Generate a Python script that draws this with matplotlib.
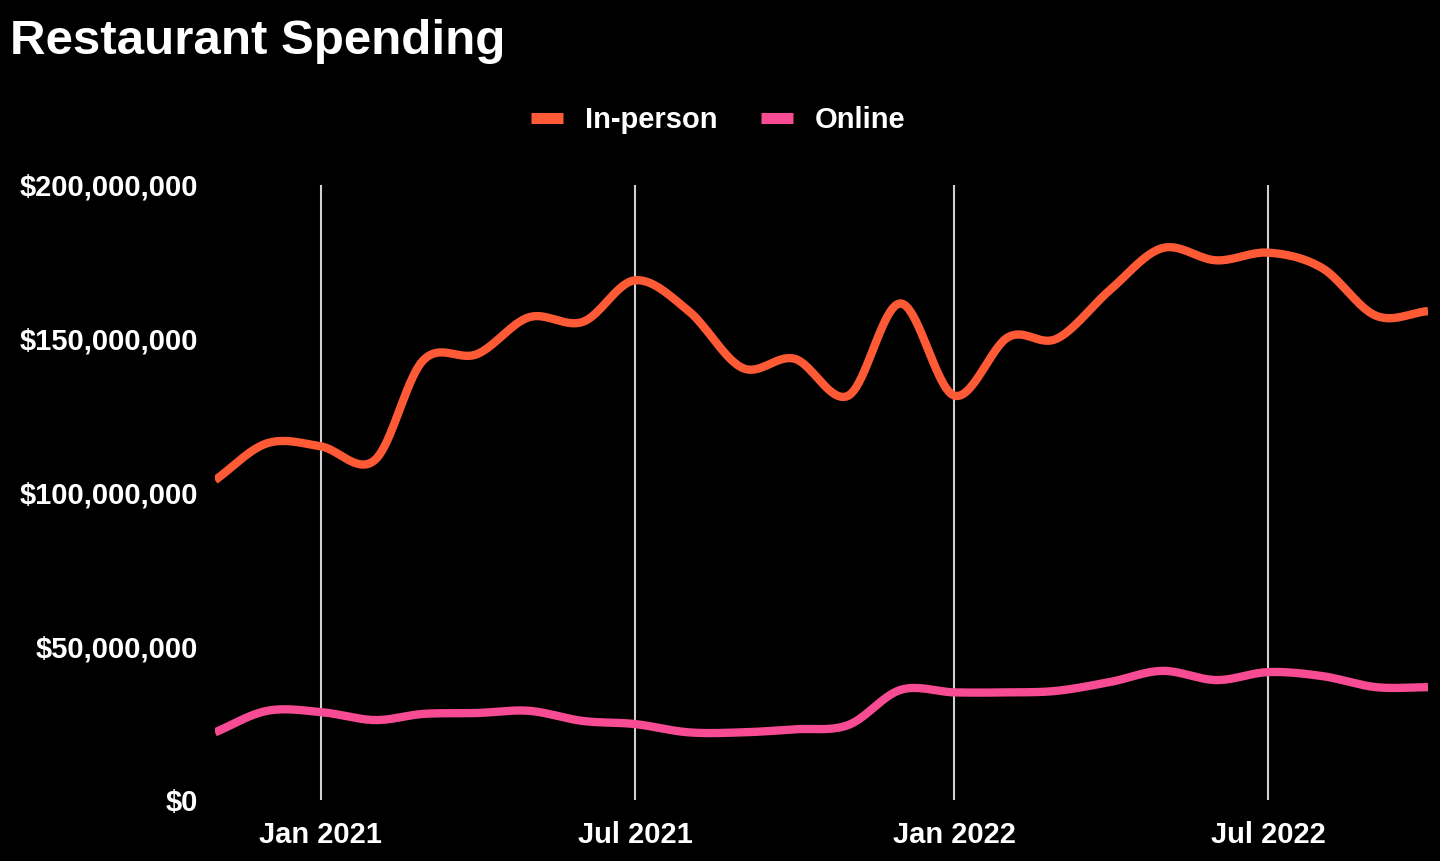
import numpy as np
import pandas as pd
import matplotlib
matplotlib.use("Agg")
import matplotlib.pyplot as plt
import matplotlib.dates as mdates
from matplotlib.ticker import FuncFormatter

plt.rcParams['font.family'] = ['Liberation Sans', 'DejaVu Sans']

# ---- data (monthly, USD) ----
months = pd.date_range("2020-11-01", "2022-10-01", freq="MS")
in_person = [104, 116, 115, 110.5, 143, 145, 157, 155.5, 169, 159, 140.5, 143.5,
             131.5, 161.5, 131.5, 150.5, 150, 166, 179.5, 175.5, 178, 173, 157.5, 159]
online = [22, 29, 28.6, 26, 28, 28.3, 29, 25.7, 24.7, 22, 22, 23,
          24.4, 35.8, 35, 35, 35.5, 38.4, 42, 39, 41.6, 40.3, 36.7, 36.7]
series_names = ["In-person", "Online"]
series_colors = ["#FF5A36", "#F74B93"]
ytick_values = [0, 50e6, 100e6, 150e6, 200e6]
xtick_dates = ["2021-01-01", "2021-07-01", "2022-01-01", "2022-07-01"]


def smooth(xn, yn, n=20):
    """Catmull-Rom curve through the data points (rendering only)."""
    xn = np.asarray(xn, float); yn = np.asarray(yn, float)
    px = np.concatenate([[2 * xn[0] - xn[1]], xn, [2 * xn[-1] - xn[-2]]])
    py = np.concatenate([[2 * yn[0] - yn[1]], yn, [2 * yn[-1] - yn[-2]]])
    ox, oy = [], []
    t = np.linspace(0, 1, n, endpoint=False)
    for i in range(1, len(px) - 2):
        for P, out in ((px, ox), (py, oy)):
            p0, p1, p2, p3 = P[i - 1], P[i], P[i + 1], P[i + 2]
            out.append(0.5 * ((2 * p1) + (-p0 + p2) * t
                              + (2 * p0 - 5 * p1 + 4 * p2 - p3) * t ** 2
                              + (-p0 + 3 * p1 - 3 * p2 + p3) * t ** 3))
    ox.append(np.array([xn[-1]])); oy.append(np.array([yn[-1]]))
    return np.concatenate(ox), np.concatenate(oy)


fig = plt.figure(figsize=(14.4, 8.61), dpi=100, facecolor="black")
ax = fig.add_axes([215 / 1440, 61 / 861, (1428 - 215) / 1440, (800 - 185) / 861])
ax.set_facecolor("black")

xnum = mdates.date2num(months.to_pydatetime())
for vals, name, col in zip([in_person, online], series_names, series_colors):
    sx, sy = smooth(xnum, np.array(vals) * 1e6)
    ax.plot(sx, sy, color=col, lw=6, solid_capstyle="butt", label=name, zorder=3)

ax.set_xlim(xnum[0], xnum[-1])
ax.set_ylim(0, 200e6)
ax.set_yticks(ytick_values)
ax.yaxis.set_major_formatter(FuncFormatter(lambda v, p: f"${v:,.0f}"))
ax.set_xticks(mdates.date2num(pd.to_datetime(xtick_dates).to_pydatetime()))
ax.xaxis.set_major_formatter(mdates.DateFormatter("%b %Y"))
ax.tick_params(axis="both", length=0, labelsize=21, labelcolor="white")
ax.tick_params(axis="y", pad=12)
ax.tick_params(axis="x", pad=15)
for lbl in ax.get_xticklabels() + ax.get_yticklabels():
    lbl.set_fontweight("bold")
ax.grid(axis="x", color="#d0d0d0", lw=1.5, zorder=1)
ax.grid(axis="y", visible=False)
for s in ax.spines.values():
    s.set_visible(False)

fig.text(10 / 1440, 1 - 41 / 861, "Restaurant Spending", color="white",
         fontsize=35.5, fontweight="bold", va="center", ha="left")

leg = fig.legend(loc="center", bbox_to_anchor=(718 / 1440, 1 - 120 / 861), ncol=2,
                 frameon=False, handlelength=1.1, handletextpad=0.75, columnspacing=1.5,
                 prop={"size": 21, "weight": "bold"})
for t in leg.get_texts():
    t.set_color("white")
for h in leg.get_lines():
    h.set_linewidth(8)

fig.savefig("out.png", dpi=100, facecolor="black")
